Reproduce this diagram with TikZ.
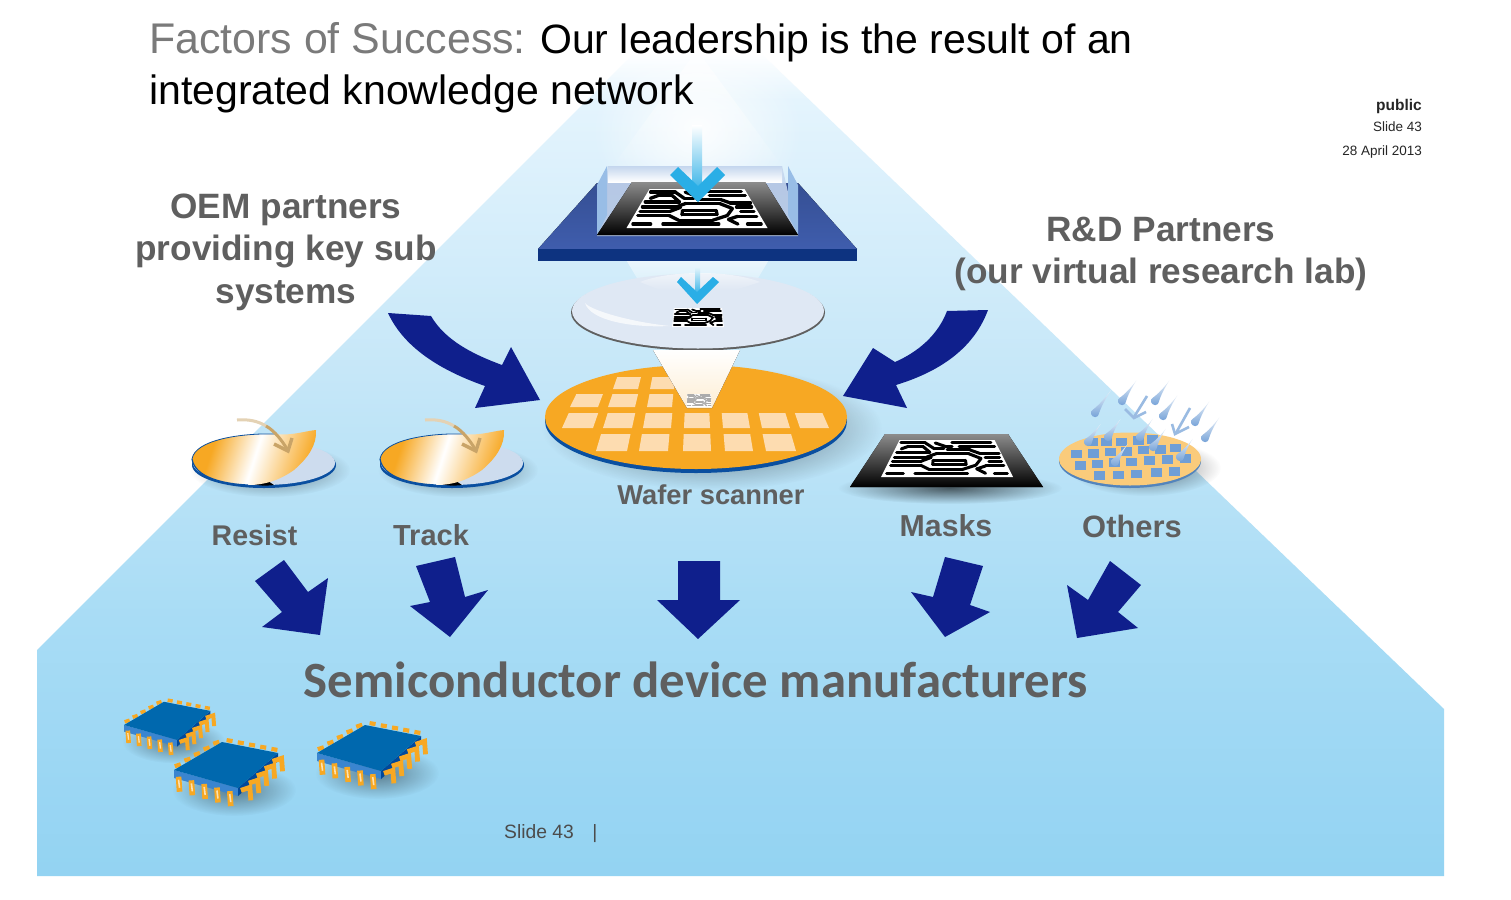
\documentclass[tikz,border=0pt]{standalone}
\usepackage{fontspec}
\setmainfont{Liberation Sans}
\newfontfamily\calib{Carlito}
\usetikzlibrary{fadings}
\definecolor{navyarrow}{HTML}{0F1F8C}
\definecolor{labelgray}{HTML}{5F5F5F}
\definecolor{titlegray}{HTML}{7A7A7A}
\definecolor{cyanarrow}{HTML}{2AAEE6}
\definecolor{waferorange}{HTML}{F7A823}
\definecolor{waferblue}{HTML}{0A4FA0}
\definecolor{diecream}{HTML}{FDDCB0}
\definecolor{tanarrow}{HTML}{C9A468}
\definecolor{dropblue}{HTML}{6F9ED6}
\definecolor{platetop}{HTML}{3F5DAD}
\definecolor{platedark}{HTML}{0D3380}
\definecolor{HTMLa}{HTML}{93D3F2}
\definecolor{HTMLb}{HTML}{A8DCF5}
\definecolor{HTMLc}{HTML}{C6E7F8}
\definecolor{HTMLd}{HTML}{E4F4FD}
\definecolor{lenscol}{HTML}{DFE8F4}
\definecolor{disccol}{HTML}{CDDCEE}
\definecolor{wallcol}{HTML}{98BDE6}
\definecolor{backwall}{HTML}{C4D6EE}
\definecolor{chiptop}{HTML}{0068AE}
\definecolor{chipfront}{HTML}{3A85D0}
\definecolor{chipside}{HTML}{00489A}
\pgfdeclareverticalshading{bgshade}{100bp}{color(0bp)=(HTMLa);
 color(25bp)=(HTMLa);color(39.6bp)=(HTMLb);color(53.9bp)=(HTMLc);color(69.3bp)=(HTMLd);color(72bp)=(white);color(100bp)=(white)}
\pgfdeclarehorizontalshading{foilshade}{100bp}{color(0bp)=(waferorange);color(30bp)=(waferorange);color(50bp)=(white);color(75bp)=(waferorange);color(100bp)=(waferorange)}
\tikzfading[name=fdown, top color=transparent!0, bottom color=transparent!100]
\tikzfading[name=softell, inner color=transparent!0, outer color=transparent!100]
\tikzset{
 bigarrow/.style={fill=navyarrow},
 lab/.style={text=labelgray,font=\bfseries\fontsize{29}{34}\selectfont,inner sep=0pt},
 headlab/.style={text=labelgray,font=\bfseries\fontsize{35.2}{42.5}\selectfont,align=center,inner sep=0pt},
 smalllab/.style={text=black!85,anchor=east,inner sep=0pt},
 titletext/.style={anchor=base west,inner sep=0pt,font=\fontsize{41}{50}\selectfont},
 diefill/.style={fill=diecream}
}
% perspective mask artwork: cx, ytop, wtop, wbot, h, linewidth
\newcommand\maskart[7][black]{%
 \def\cxm{#2}\def\ytm{#3}\def\wtm{#4}\def\wbm{#5}\def\hm{#6}%
 \fill[white] ({\cxm-\wtm/2},\ytm) -- ({\cxm+\wtm/2},\ytm) -- ({\cxm+\wbm/2},{\ytm+\hm}) -- ({\cxm-\wbm/2},{\ytm+\hm}) -- cycle;
 \foreach \pl in {
  {.03/.08,.28/.08,.38/.24,.47/.24},{.38/.08,.48/.17,.55/.17},{.55/.07,.95/.07},{.62/.17,.97/.17},
  {.06/.24,.12/.17,.26/.17,.34/.33,.03/.33},{.50/.27,.72/.27,.80/.36,.98/.36},
  {.03/.46,.32/.46,.40/.37,.70/.37,.80/.5,.74/.68,.62/.8,.36/.8,.28/.68,.03/.68},
  {.38/.55,.66/.55,.66/.66,.38/.66,.38/.55},{.84/.46,.97/.46},{.03/.57,.28/.57,.36/.47},
  {.03/.9,.16/.9},{.86/.57,.97/.57},{.80/.9,.74/.78,.82/.7,.97/.7},{.87/.9,.97/.9},{.25/.9,.66/.9}}{
  \foreach \ua/\va [remember=\ua as \lua (initially -1),remember=\va as \lva (initially -1)] in \pl {
   \ifdim\lua pt<0pt\relax\else
    \draw[#1,line width=#7,line cap=round]
     ({\cxm+(\lua-.5)*(\wtm+(\wbm-\wtm)*\lva)},{\ytm+\lva*\hm}) -- ({\cxm+(\ua-.5)*(\wtm+(\wbm-\wtm)*\va)},{\ytm+\va*\hm});
   \fi}}%
}
\newcommand\softshadow[5]{\fill[black,opacity=#5,path fading=softell] (#1,#2) ellipse (#3 and #4);}
% wafer die: x1 x2 (bottom edge), ytop, ybottom
\newcommand\wdie[4]{\fill[diefill] (#1,#4) -- (#2,#4) -- ({#2-(#2-697)*.05},#3) -- ({#1-(#1-697)*.05},#3) -- cycle;}
\newcommand\foilart[1]{%
 \begin{scope}[shift={(#1,0)}]
 \softshadow{270}{470}{80}{27}{.5}
 \fill[waferblue] (264,465) ellipse (72 and 23);
 \fill[disccol] (264,463) ellipse (71 and 22);
 \fill[black] (250,483) .. controls (258,486) and (266,486) .. (274,485) -- (268,481) -- cycle;
 \path[shading=foilshade,shading angle=-18] (192,459) .. controls (195,440) and (240,433) .. (275,434)
   .. controls (292,436) and (305,431) .. (316,430) .. controls (317,445) and (308,458) .. (294,470)
   .. controls (280,480) and (265,485) .. (248,485) .. controls (225,484) and (195,478) .. (192,459) -- cycle;
 \draw[waferblue,line width=.8] (192,459) .. controls (195,440) and (240,433) .. (275,434);
 \draw[waferblue,line width=1.2] (192,459) .. controls (195,478) and (225,484) .. (248,485);
 \draw[white!50!tanarrow,line width=3] (237,420) .. controls (248,419) and (258,421) .. (266,426);
 \draw[tanarrow,line width=3] (266,426) .. controls (275,431) and (283,442) .. (287,449);
 \draw[tanarrow,line width=3.4] (274,444) -- (288,451) -- (292,438);
 \end{scope}}
\newcommand\dropart[4][22]{%
 \begin{scope}[shift={(#2,#3)},rotate=#4]
 \path[top color=white!85!dropblue,bottom color=dropblue] (#1,0) .. controls (5,-.8) and (2,-4.3) .. (-1,-4)
  .. controls (-5,-3.2) and (-5,3.2) .. (-1,4) .. controls (2,4.3) and (5,.8) .. (#1,0) -- cycle;
 \end{scope}}
\newcommand\chipart[3]{%
 \begin{scope}[shift={(#1,#2)},scale=#3]
 \softshadow{60}{20}{62}{26}{.42}
 \foreach \t in {.1,.3,.5,.7,.9}{
  \draw[waferorange,line width={4.2*#3}] ({48*\t-4},{-28*\t-1}) -- ({48*\t+2},{-28*\t-3});
  \draw[waferorange,line width={4.2*#3}] ({48+56*\t-1},{-28+11*\t-3}) -- ({48+56*\t+5},{-28+11*\t-2});
 }
 \fill[chipfront] (0,0) -- (64,18) -- (64,26) -- (0,8) -- cycle;
 \fill[chipside] (64,18) -- (104,-17) -- (104,-9) -- (64,26) -- cycle;
 \fill[chiptop] (0,0) -- (48,-28) -- (104,-17) -- (64,18) -- cycle;
 \foreach \t in {.04,.24,.44,.64,.84}{
  \draw[waferorange,line width={5.6*#3}] ({64*\t+2},{18*\t+6}) -- ({64*\t+3},{18*\t+21});
  \draw[white!65!waferorange,line width={1.6*#3}] ({64*\t+2},{18*\t+9}) -- ({64*\t+3},{18*\t+17});
 }
 \foreach \t in {.08,.3,.52,.74,.96}{
  \draw[waferorange,line width={4.8*#3}] ({64+36*\t},{18-33*\t+5}) -- ({64+36*\t+9},{18-33*\t+2}) -- ({64+36*\t+10},{18-33*\t+15});
 }
 \end{scope}}
\begin{document}
\begin{tikzpicture}[x=1pt,y=-1pt]
\useasboundingbox (0,0) rectangle (1511,899);
\fill[white] (0,0) rectangle (1511,899);
% pyramid
\begin{scope}
 \clip (37,650) -- (696,-9) -- (1444,709) -- (1444,876) -- (37,876) -- cycle;
 \path[shading=bgshade] (0,0) rectangle (1511,876);
 \fill[white,opacity=.7,path fading=fdown] (697,50) -- (610,170) -- (785,170) -- cycle;
 \fill[white,opacity=.9,path fading=softell] (697,130) ellipse (105 and 90);
 \fill[white,opacity=.6,path fading=fdown] (625,258) -- (770,258) -- (745,300) -- (650,300) -- cycle;
\end{scope}
% reticle stage
\fill[top color=platetop!85!black,bottom color=platetop] (597,183) -- (798,183) -- (857,249) -- (538,249) -- cycle;
\fill[platedark] (538,249) rectangle (857,261);
\fill[backwall,opacity=.9] (608,166) -- (782,166) -- (798,236) -- (597,236) -- cycle;
\fill[top color=backwall,bottom color=white] (608,166) rectangle (782,182);
\fill[wallcol] (597,185) -- (607,166) -- (607,215) -- (597,235) -- cycle;
\fill[wallcol] (798,185) -- (788,166) -- (788,215) -- (798,235) -- cycle;
\fill[top color=gray!90,bottom color=black] (632,182) -- (765,182) -- (798,235) -- (597,235) -- cycle;
\maskart{697}{189}{95}{141}{39}{3.3}
\fill[top color=white,bottom color=cyanarrow] (692,125) rectangle (702,195);
\fill[cyanarrow] (670,175) -- (678,167) -- (698,186) -- (717,167) -- (725,175) -- (698,202) -- cycle;
% lens
\fill[gray!75!black] (698,312.5) ellipse (127 and 38);
\fill[lenscol] (698,311) ellipse (126 and 37.5);
\fill[white,opacity=.65,path fading=fdown] (640,282) .. controls (670,270) and (730,270) .. (760,282) -- (735,290) -- (660,290) -- cycle;
\fill[white,opacity=.7] (585,303) .. controls (590,310) and (630,322) .. (670,326) .. controls (630,328) and (590,320) .. (585,303) -- cycle;
\fill[top color=white!85!cyanarrow,bottom color=cyanarrow] (695,268) rectangle (700,296);
\fill[cyanarrow] (677,282) -- (681,277) -- (697,292) -- (713,277) -- (719,282) -- (697,304) -- cycle;
\maskart{698}{308}{48}{52}{19}{1.8}
% wafer
\softshadow{712}{428}{170}{62}{.6}
\fill[waferblue] (696,421) ellipse (151 and 52);
\fill[waferorange] (696,417) ellipse (151 and 52);
\foreach \xa/\xb in {613/638,650/674}{\wdie{\xa}{\xb}{377}{389}}
\foreach \xa/\xb in {570/598,608/635,647/672}{\wdie{\xa}{\xb}{394}{407}}
\foreach \xa/\xb in {562/593,603/632,643/671,684/710,723/750,762/790,800/829}{\wdie{\xa}{\xb}{413}{428}}
\foreach \xa/\xb in {596/627,639/668,683/711,725/753,766/796}{\wdie{\xa}{\xb}{434}{451}}
\fill[top color=white,bottom color=white!80!waferorange] (653,350) -- (740,350) -- (712,408) -- (687,408) -- cycle;
\maskart[gray!65]{699}{394}{24}{25}{13}{1.2}
% resist and track
\foilart{0}
\foilart{188}
% masks
\softshadow{950}{488}{112}{16}{.6}
\fill[top color=gray!90,bottom color=black] (885,434) -- (1008,434) -- (1043,487) -- (850,487) -- cycle;
\maskart{947}{440}{95}{132}{37}{3}
% others
\softshadow{1145}{468}{76}{28}{.55}
\fill[waferblue!70!white] (1130,461) ellipse (71 and 27);
\fill[white!40!waferorange] (1130,459) ellipse (71 and 26.5);
\foreach \xc/\yc in {757/216,800/216,845/216,894/212,937/208,
 710/252,760/250,810/246,860/244,910/240,960/238,1007/234,
 720/286,772/282,822/278,875/276,928/272,982/268,1037/265,
 778/317,835/315,888/312,948/308,1002/304}{
 \fill[dropblue] ({840+\xc/3-5.5},{370+\yc/3-4.2}) rectangle ({840+\xc/3+5.5},{370+\yc/3+4.2});}
\foreach \xd/\yd/\ln in {1095/413/28,1122/401/25,1155/401/25,1163/416/25,1195/422/25,1205/438/25,
 1088/442/22,1108/437/22,1140/437/22,1153/447/22,1115/462/22,1180/457/22}{\dropart[\ln]{\xd}{\yd}{55}}
\draw[dropblue!70!white,line width=2.6] (1147,396) -- (1134,417);
\draw[dropblue!70!white,line width=2.6] (1125,409) -- (1134,418) -- (1146,412);
\draw[dropblue!70!white,line width=2.6] (1190,408) -- (1176,433);
\draw[dropblue!70!white,line width=2.6] (1172,424) -- (1175,434) -- (1189,427);
% chips
\chipart{124}{725}{.83}
\chipart{174}{770}{1}
\chipart{317}{753}{1}
% big curved arrows
\fill[bigarrow] (388,313) -- (431,316) .. controls (445,340) and (472,354) .. (502,365) -- (511,347) -- (540,400) -- (475,408) -- (485,386) .. controls (445,372) and (405,350) .. (388,313) -- cycle;
\fill[bigarrow] (988,310) -- (947,311) .. controls (938,335) and (918,352) .. (895,362) -- (873,348) -- (843,396) -- (907,408) -- (896,385) .. controls (945,370) and (975,345) .. (988,310) -- cycle;
% straight arrows
\fill[bigarrow] (255,581) -- (284,560) -- (308,592) -- (328,578) -- (320,635) -- (262,627) -- (282,612) -- cycle;
\fill[bigarrow] (416,566) -- (455,557) -- (465,597) -- (488,590) -- (450,637) -- (410,606) -- (430,602) -- cycle;
\fill[bigarrow] (678,561) -- (720,561) -- (720,600) -- (740,600) -- (698,639) -- (657,600) -- (678,600) -- cycle;
\fill[bigarrow] (945,557) -- (983,566) -- (970,605) -- (990,612) -- (945,637) -- (911,592) -- (933,597) -- cycle;
\fill[bigarrow] (1110,561) -- (1141,585) -- (1118,612) -- (1138,628) -- (1077,638) -- (1067,585) -- (1088,600) -- cycle;
% texts
\node[titletext] (title1) at (149,54) {\textcolor{titlegray}{\fontsize{42.9}{50}\selectfont Factors of Success:}\hspace{-.02em} Our leadership is the result of an};
\node[titletext] (title2) at (149,104) {integrated knowledge network};
\node[smalllab,font=\bfseries\fontsize{15.5}{17}\selectfont] (public) at (1422,106) {public};
\node[smalllab,font=\fontsize{13.5}{16}\selectfont] (slidetop) at (1422,127) {Slide 43};
\node[smalllab,font=\fontsize{13.5}{16}\selectfont] (date) at (1422,152) {28 April 2013};
\node[headlab] (oem) at (286,252) {OEM partners\\providing key sub\\systems};
\node[headlab] (rd) at (1161,254) {R\&D Partners\\(our virtual research lab)};
\node[lab,font=\bfseries\fontsize{28.5}{34}\selectfont] (resist) at (254.5,535) {Resist};
\node[lab] (track) at (431,535) {Track};
\node[lab,font=\bfseries\fontsize{27.3}{34}\selectfont] (scanner) at (711,495) {Wafer scanner};
\node[lab,font=\bfseries\fontsize{30.3}{34}\selectfont] (masks) at (946,526) {Masks};
\node[lab,font=\bfseries\fontsize{30.9}{34}\selectfont] (others) at (1132,526) {Others};
\node[inner sep=0pt,text=labelgray,font=\calib\bfseries\fontsize{50.8}{56}\selectfont] (semi) at (696,680) {Semiconductor device manufacturers};
\node[anchor=west,inner sep=0pt,text=black!70,font=\fontsize{19.3}{22}\selectfont] (slidebot) at (504,834) {Slide 43\hspace{.95em}|};
\end{tikzpicture}
\end{document}
